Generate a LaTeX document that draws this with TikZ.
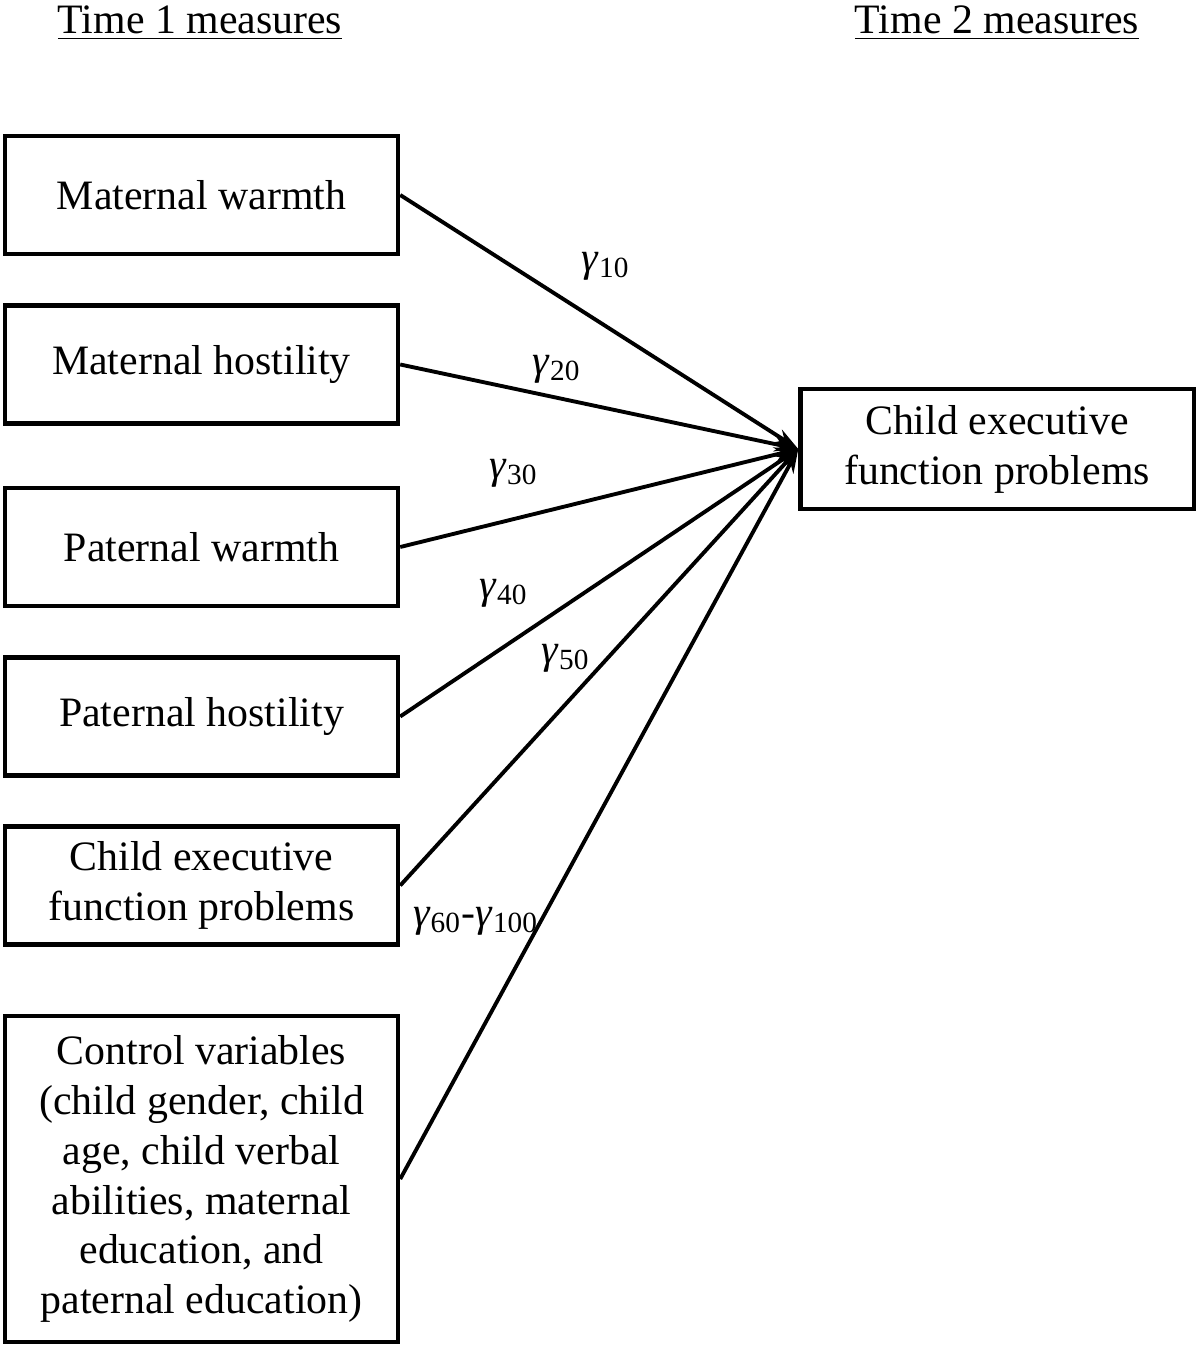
\documentclass[tikz,border=0pt]{standalone}
\usepackage{fontspec}
\setmainfont{Liberation Serif}
\usetikzlibrary{arrows.meta}

\tikzset{
	varbox/.style={draw, line width=1.2pt, minimum width=3.93cm, minimum height=1.18cm, align=center, inner sep=0pt},
	effect/.style={line width=1.1pt, -{Stealth[length=2.4mm, width=1.5mm]}},
	coef/.style={inner sep=1pt}
}

\begin{document}
\begin{tikzpicture}[x=0.01cm, y=-0.01cm, font=\fontsize{11.9}{14.2}\selectfont]
	%\draw[help lines] (0,0) grid[step=100] (1200,1352);
	\useasboundingbox (0,0) rectangle (1200,1352);
	\node (time1) at (200,23) {\underline{Time 1 measures}};
	\node (time2) at (997,23) {\underline{Time 2 measures}};
	\node[varbox] (mw) at (201.5,195) {Maternal warmth};
	\node[varbox] (mh) at (201.5,364.5) {Maternal hostility};
	\node[varbox] (pw) at (201.5,547) {Paternal warmth};
	\node[varbox] (ph) at (201.5,716.5) {Paternal hostility};
	\node[varbox] (efone) at (201.5,885.5) {Child executive\\function problems};
	\node[varbox, minimum height=3.26cm] (ctrl) at (201.5,1179) {Control variables\\(child gender, child\\age, child verbal\\abilities, maternal\\education, and\\paternal education)};
	\node[varbox, minimum height=1.2cm] (eftwo) at (997,449) {Child executive\\function problems};
	\draw[effect] (mw.east) -- (eftwo.west);
	\draw[effect] (mh.east) -- (eftwo.west);
	\draw[effect] (pw.east) -- (eftwo.west);
	\draw[effect] (ph.east) -- (eftwo.west);
	\draw[effect] (efone.east) -- (eftwo.west);
	\draw[effect] (ctrl.east) -- (eftwo.west);
	\node[coef] (g1) at (606,266) {\textit{γ}\textsubscript{10}};
	\node[coef] (g2) at (557,369) {\textit{γ}\textsubscript{20}};
	\node[coef] (g3) at (514,473) {\textit{γ}\textsubscript{30}};
	\node[coef] (g4) at (504,593) {\textit{γ}\textsubscript{40}};
	\node[coef] (g5) at (566,658) {\textit{γ}\textsubscript{50}};
	\node[coef] (g6) at (476,921) {\textit{γ}\textsubscript{60}-\textit{γ}\textsubscript{100}};
\end{tikzpicture}
\end{document}
